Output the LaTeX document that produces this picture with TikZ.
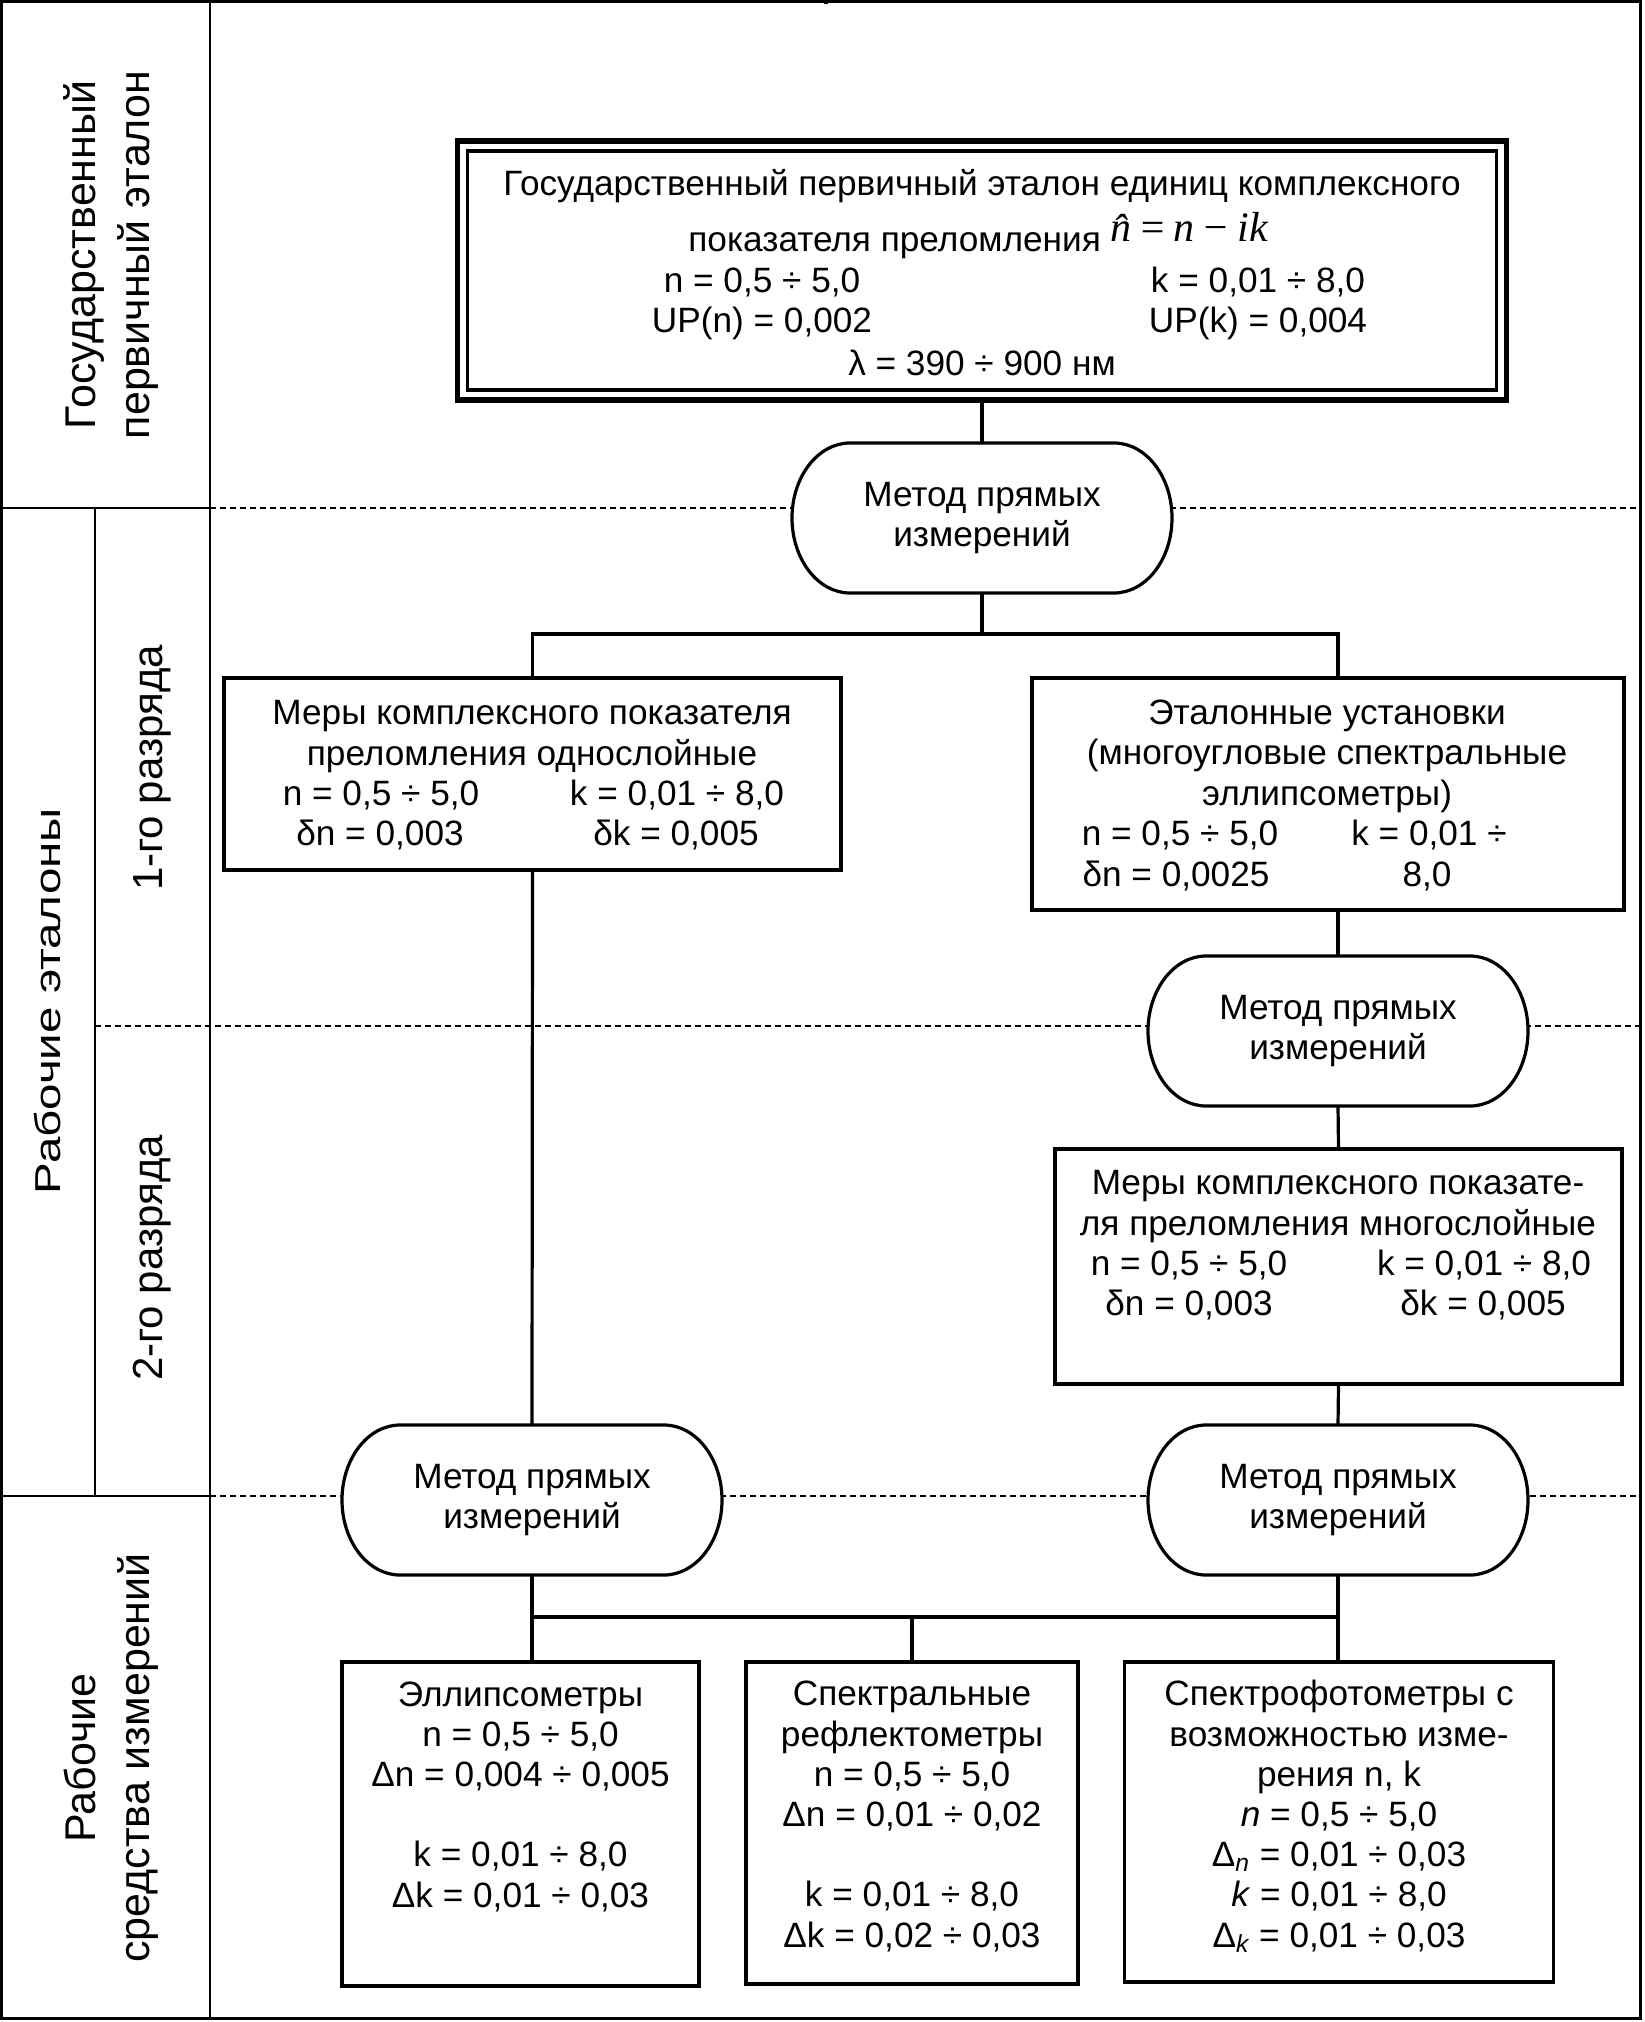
\documentclass[tikz,border=0pt]{standalone}
\usepackage{fontspec}
\setmainfont{Liberation Sans}
\newfontfamily\tnr{Liberation Serif}
\usetikzlibrary{calc}
\newcommand{\fs}{\fontsize{17.6}{20.1}\selectfont}
\newcommand{\mathf}{\tnr\itshape\fontsize{21}{21}\selectfont}
\newcommand{\ovalshape}[1]{%
\filldraw[conn, fill=white] ([xshift=29pt]#1.north west) -- ([xshift=-29pt]#1.north east)
 .. controls ([xshift=-13pt]#1.north east) and ([yshift=20.7pt]#1.east) .. (#1.east)
 .. controls ([yshift=-20.7pt]#1.east) and ([xshift=-13pt]#1.south east) .. ([xshift=-29pt]#1.south east)
 -- ([xshift=29pt]#1.south west)
 .. controls ([xshift=13pt]#1.south west) and ([yshift=-20.7pt]#1.west) .. (#1.west)
 .. controls ([yshift=20.7pt]#1.west) and ([xshift=13pt]#1.north west) .. cycle;}
\tikzset{
  box/.style={draw, line width=1.6pt, inner sep=0pt, outer sep=0pt},
  ov/.style={inner sep=0pt, outer sep=0pt, minimum width=190pt, minimum height=75pt},
  txt/.style={font=\fs, inner sep=0pt, anchor=base, align=center},
  otxt/.style={font=\fs, inner sep=0pt, align=center},
  rot/.style={font=\fontsize{21.5}{27}\selectfont, rotate=90, align=center, inner sep=0pt},
  conn/.style={line width=1.6pt},
  frame/.style={line width=1.5pt},
  vline/.style={line width=1.3pt},
  sep/.style={line width=0.9pt},
  dsh/.style={line width=0.9pt, dash pattern=on 3pt off 2pt}
}
\begin{document}
\begin{tikzpicture}[x=0.5pt, y=-0.5pt]
\useasboundingbox (0,0) rectangle (1644,2022);
% frame and separators
\draw[frame] (1.5,2) rectangle (1640,2018);
\draw[conn] (826,0) -- (826,4);
\draw[vline] (210,0) -- (210,2020);
\draw[vline] (95,508) -- (95,1496);
\draw[sep] (0,508) -- (210,508);
\draw[sep] (0,1496) -- (210,1496);
\draw[dsh] (210,508) -- (1640,508);
\draw[dsh] (95,1026) -- (1640,1026);
\draw[dsh] (210,1496) -- (1640,1496);
% left labels
\node[rot] (l1) at (111,255) {Государственный\\первичный эталон};
\node[rot, font=\fontsize{18}{21}\selectfont] (l2) at (47,1001) {\scalebox{1.32}[1]{Рабочие эталоны}};
\node[rot, font=\fontsize{21}{25}\selectfont] (l3) at (152,768) {1-го разряда};
\node[rot, font=\fontsize{21}{25}\selectfont] (l4) at (152,1258) {2-го разряда};
\node[rot] (l5) at (111,1758) {Рабочие\\средства измерений};
% top box
\node[box, line width=2.8pt, minimum width=524.5pt, minimum height=129.5pt] (top) at (982,270.5) {};
\draw[line width=1.7pt] ([shift={(5pt,-5pt)}]top.north west) rectangle ([shift={(-5pt,5pt)}]top.south east);
\node[txt] (t0a) at (982,196) {Государственный первичный эталон единиц комплексного};
\node[txt] (t0b) at (978,252) {показателя преломления \raisebox{5pt}{\mathf \^{n}\,=\,n\,−\,ik}};
\node[txt] (t0c) at (762,293) {n = 0,5 ÷ 5,0};
\node[txt] (t0d) at (1258,293) {k = 0,01 ÷ 8,0};
\node[txt] (t0e) at (762,333) {UP(n) = 0,002};
\node[txt] (t0f) at (1258,333) {UP(k) = 0,004};
\node[txt] (t0g) at (982,376) {λ = 390 ÷ 900 нм};
% ovals
\node[ov] (o1) at (982,518) {};
\ovalshape{o1}
\node[otxt] (o1t) at (o1) {Метод прямых\\измерений};
\node[ov] (o2) at (1338,1031) {};
\ovalshape{o2}
\node[otxt] (o2t) at (o2) {Метод прямых\\измерений};
\node[ov] (o3) at (1338,1500) {};
\ovalshape{o3}
\node[otxt] (o3t) at (o3) {Метод прямых\\измерений};
\node[ov] (o4) at (532,1500) {};
\ovalshape{o4}
\node[otxt] (o4t) at (o4) {Метод прямых\\измерений};
% first rank boxes
\node[box, minimum width=308.5pt, minimum height=96pt] (bl1) at (532.5,774) {};
\node[txt] (t1a) at (532,765) {Меры комплексного показателя\\преломления однослойные};
\node[txt] (t1b) at (381,805) {n = 0,5 ÷ 5,0};
\node[txt] (t1c) at (677,805) {k = 0,01 ÷ 8,0};
\node[txt] (t1d) at (380,845) {δn = 0,003};
\node[txt] (t1e) at (676,845) {δk = 0,005};
\node[box, minimum width=296pt, minimum height=116pt] (br1) at (1328,794) {};
\node[txt] (t2a) at (1327,805) {Эталонные установки\\(многоугловые спектральные\\эллипсометры)};
\node[txt] (t2b) at (1180,845) {n = 0,5 ÷ 5,0};
\node[txt] (t2c) at (1429,845) {k = 0,01 ÷};
\node[txt] (t2d) at (1176,886) {δn = 0,0025};
\node[txt] (t2e) at (1427,886) {8,0};
% second rank box
\node[box, minimum width=283.5pt, minimum height=117.5pt] (br2) at (1338.5,1266.5) {};
\node[txt] (t3a) at (1338,1235) {Меры комплексного показате-\\ля преломления многослойные};
\node[txt] (t3b) at (1189,1275) {n = 0,5 ÷ 5,0};
\node[txt] (t3c) at (1484,1275) {k = 0,01 ÷ 8,0};
\node[txt] (t3d) at (1189,1315) {δn = 0,003};
\node[txt] (t3e) at (1483,1315) {δk = 0,005};
% bottom boxes
\node[box, minimum width=178.5pt, minimum height=162pt] (b1) at (520.5,1824) {};
\node[txt] (t4) at (520.5,1907) {Эллипсометры\\n = 0,5 ÷ 5,0\\Δn = 0,004 ÷ 0,005\\\mbox{}\\k = 0,01 ÷ 8,0\\Δk = 0,01 ÷ 0,03};
\node[box, minimum width=166pt, minimum height=161pt] (b2) at (912,1823) {};
\node[txt] (t5) at (912,1947) {Спектральные\\рефлектометры\\n = 0,5 ÷ 5,0\\Δn = 0,01 ÷ 0,02\\\mbox{}\\k = 0,01 ÷ 8,0\\Δk = 0,02 ÷ 0,03};
\node[box, minimum width=214.5pt, minimum height=160pt] (b3) at (1339,1822) {};
\node[txt] (t6) at (1339,1947) {Спектрофотометры с\\возможностью изме-\\рения n, k\\\textit{n} = 0,5 ÷ 5,0\\Δ\textsubscript{\itshape n} = 0,01 ÷ 0,03\\\textit{k} = 0,01 ÷ 8,0\\Δ\textsubscript{\itshape k} = 0,01 ÷ 0,03};
% connectors
\coordinate (j1) at (982,634);
\coordinate (j2) at (912,1617);
\draw[conn] (top.south) -- (o1.north);
\draw[conn] (o1.south) -- (j1);
\draw[conn] (bl1.north) |- (j1) -| ([xshift=5pt]br1.north);
\draw[conn] ([xshift=5pt]br1.south) -- (o2.north);
\draw[conn] (o2.south) -- (br2.north);
\draw[conn] (br2.south) -- (o3.north);
\draw[conn] (bl1.south) -- (o4.north);
\draw[conn] (o4.south) |- (j2) -| (o3.south);
\draw[conn] (j2) -- (b2.north);
\draw[conn] (o4.south |- j2) -- ([xshift=5.75pt]b1.north);
\draw[conn] (o3.south |- j2) -- (o3.south |- b3.north);
\end{tikzpicture}
\end{document}
